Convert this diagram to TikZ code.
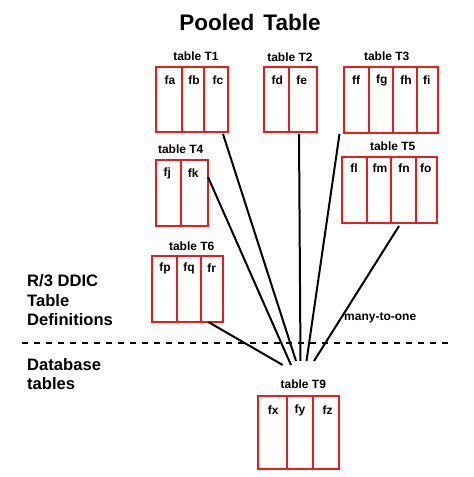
\documentclass[tikz,border=0pt]{standalone}
\usepackage{fontspec}
\setmainfont{Liberation Sans}
\definecolor{tred}{RGB}{230,28,30}
\begin{document}
\begin{tikzpicture}[x=1pt,y=-1pt,
  tbl/.style={draw=tred, line width=2.2pt, inner sep=0pt, outer sep=0pt, minimum height=65pt},
  div/.style={draw=tred, line width=2.2pt},
  fld/.style={font=\fontsize{12}{14}\selectfont\bfseries, inner sep=0pt},
  tlabel/.style={font=\fontsize{12}{14}\selectfont\bfseries, inner sep=0pt},
  side/.style={font=\fontsize{16.6}{19.5}\selectfont\bfseries, align=left, anchor=west, inner sep=0pt},
  conn/.style={draw=black, line width=2pt},
  dline/.style={draw=black, line width=2pt, dash pattern=on 6pt off 6pt}]
\useasboundingbox (0,0) rectangle (474,477);

% title
\node[font=\fontsize{22.5}{25}\selectfont\bfseries, inner sep=0pt] (title) at (250,22) {Pooled\hspace{0.4em}Table};

% side labels
\node[side] (ddic) at (27,300.5) {R/3 DDIC\\Table\\Definitions};
\node[side] (db) at (27,374) {Database\\tables};

% dashed separator
\coordinate (dl) at (22,343.3);
\coordinate (dr) at (449,343.3);
\draw[dline] (dl) -- (dr);

% table T1
\node[tlabel] (lT1) at (196,56.7) {table T1};
\node[tbl, minimum width=72pt] (T1) at (192,99.5) {};
\draw[div] (182,67) -- (182,132);
\draw[div] (204,67) -- (204,132);
\node[fld] (fa) at (170,80) {fa};
\node[fld] (fb) at (194,80) {fb};
\node[fld] (fc) at (218,80) {fc};

% table T2
\node[tlabel] (lT2) at (290,57) {table T2};
\node[tbl, minimum width=53pt] (T2) at (290.5,99.5) {};
\draw[div] (289,67) -- (289,132);
\node[fld] (fd) at (277.3,80) {fd};
\node[fld] (fe) at (301.7,80) {fe};

% table T3
\node[tlabel] (lT3) at (386.7,56.7) {table T3};
\node[tbl, minimum width=94pt, minimum height=66pt] (T3) at (391,100) {};
\draw[div] (369,67) -- (369,133);
\draw[div] (393,67) -- (393,133);
\draw[div] (417,67) -- (417,133);
\node[fld] (ff) at (356,80) {ff};
\node[fld] (fg) at (381.7,80) {fg};
\node[fld] (fh) at (406,80) {fh};
\node[fld] (fi) at (426.7,80) {fi};

% table T4
\node[tlabel] (lT4) at (180.7,149.3) {table T4};
\node[tbl, minimum width=52pt, minimum height=66pt] (T4) at (182,193) {};
\draw[div] (181,160) -- (181,226);
\node[fld] (fj) at (167.3,173.3) {fj};
\node[fld] (fk) at (193.3,173.3) {fk};

% table T5
\node[tlabel] (lT5) at (392.7,146.7) {table T5};
\node[tbl, minimum width=95pt, minimum height=66pt] (T5) at (389.5,190) {};
\draw[div] (367,157) -- (367,223);
\draw[div] (391,157) -- (391,223);
\draw[div] (416,157) -- (416,223);
\node[fld] (fl) at (354,168.3) {fl};
\node[fld] (fm) at (380,168.3) {fm};
\node[fld] (fn) at (404,168.3) {fn};
\node[fld] (fo) at (425.7,168.3) {fo};

% table T6
\node[tlabel] (lT6) at (191.7,246) {table T6};
\node[tbl, minimum width=71pt, minimum height=66pt] (T6) at (187.5,289) {};
\draw[div] (177,256) -- (177,322);
\draw[div] (201,256) -- (201,322);
\node[fld] (fp) at (165,268.3) {fp};
\node[fld] (fq) at (189,268.3) {fq};
\node[fld] (fr) at (211.7,268.3) {fr};

% table T9
\node[tlabel] (lT9) at (303.3,384) {table T9};
\node[tbl, minimum width=81pt, minimum height=73pt] (T9) at (298.5,432.5) {};
\draw[div] (287,396) -- (287,469);
\draw[div] (313,396) -- (313,469);
\node[fld] (fx) at (273.3,410) {fx};
\node[fld] (fy) at (300,410) {fy};
\node[fld] (fz) at (327.7,410) {fz};

% many-to-one label
\node[font=\fontsize{12}{14}\selectfont\bfseries, anchor=west, inner sep=0pt] (m2o) at (344,318.3) {many-to-one};

% connector ends
\coordinate (e6) at (282.7,365);
\coordinate (e4) at (291,365);
\coordinate (e1) at (296,361);
\coordinate (e2) at (300.5,361);
\coordinate (e3) at (306.5,361);
\coordinate (e5) at (314,361);

% connectors
\draw[conn] ([xshift=-5pt,yshift=-2pt]T1.south east) -- (e1);
\draw[conn] ([xshift=8.5pt,yshift=-2pt]T2.south) -- (e2);
\draw[conn] ([xshift=-4.5pt,yshift=-1pt]T3.south west) -- (e3);
\draw[conn] ([yshift=16pt]T4.east) -- (e4);
\draw[conn] ([xshift=9.5pt,yshift=-3pt]T5.south) -- (e5);
\draw[conn] ([xshift=-14.7pt]T6.south east) -- (e6);
\end{tikzpicture}
\end{document}
